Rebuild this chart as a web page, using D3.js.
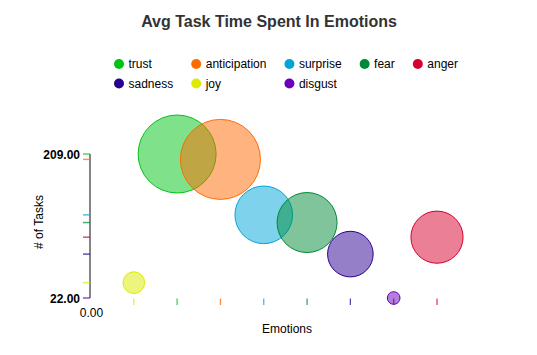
<!DOCTYPE html>
<html><head><meta charset="utf-8">
<script src="https://cdn.jsdelivr.net/npm/d3@7"></script>
<style>body{margin:0;background:#fff}svg{font-family:"Liberation Sans",Arial,Helvetica,sans-serif}</style>
</head><body>
<svg id="c" width="537" height="355"></svg>
<script>
const emotions = ["trust","anticipation","surprise","fear","anger","sadness","joy","disgust"];
const colors = ["#00c414","#ff6a00","#00a5d7","#008a37","#d7002d","#290091","#dcec00","#6a00b9"];
const taskCounts = [209,202,130,120,101,79,42,22];
const avgTime = [15.2,16.0,8.3,9.0,6.8,5.2,1.17,0.4];
const xOrder = ["joy","trust","anticipation","surprise","fear","sadness","disgust","anger"];
const yTickLabels = ["209.00","22.00"];
const xTickLabel = "0.00";

const svg = d3.select("#c");
const data = emotions.map((e,i)=>({name:e,color:colors[i],count:taskCounts[i],time:avgTime[i],xi:xOrder.indexOf(e)+1}));

const x = d3.scaleLinear().domain([0,8]).range([90.5,437]);
const y = d3.scaleLinear().domain([22,209]).range([298,154]);
const r = d3.scaleSqrt().domain([0,d3.max(avgTime)]).range([0,40]);

// title
svg.append("text").attr("x",269).attr("y",27).attr("text-anchor","middle")
  .attr("font-size","16px").attr("font-weight","bold").attr("fill","#333").text("Avg Task Time Spent In Emotions");

// legend
const leg = svg.append("g");
const cols = 5;
const tmp = leg.append("text").attr("font-size","12px");
const widths = emotions.map(e=>{tmp.text(e);return tmp.node().getComputedTextLength();});
tmp.remove();
const colW = d3.range(cols).map(c=>d3.max(emotions.filter((e,i)=>i%cols===c).map(e=>widths[emotions.indexOf(e)])));
const colX = [119];
for(let c=1;c<cols;c++) colX.push(colX[c-1]+10+colW[c-1]+22.5);
data.forEach((d,i)=>{
  const cx = colX[i%cols], cy = 64 + Math.floor(i/cols)*19.5;
  leg.append("circle").attr("cx",cx).attr("cy",cy).attr("r",5).attr("fill",d.color);
  leg.append("text").attr("x",cx+9.5).attr("y",cy+4.3).attr("font-size","12px").attr("fill","#000").text(d.name);
});

// y axis line
svg.append("line").attr("x1",90).attr("x2",90).attr("y1",y(209)).attr("y2",y(22)).attr("stroke","#333").attr("stroke-width",1.2);
// y colored ticks
data.forEach(d=>{
  svg.append("line").attr("x1",83).attr("x2",90).attr("y1",y(d.count)).attr("y2",y(d.count))
    .attr("stroke",d.color).attr("stroke-opacity",0.7).attr("stroke-width",1.5);
});
// y labels
[209,22].forEach((v,i)=>{
  svg.append("text").attr("x",80).attr("y",y(v)+4.5).attr("text-anchor","end").attr("font-size","12px")
    .attr("font-weight","bold").attr("fill","#000").text(yTickLabels[i]);
});
svg.append("text").attr("x",x(0)+1).attr("y",317).attr("text-anchor","middle").attr("font-size","12px").attr("fill","#000").text(xTickLabel);

// x colored ticks
data.forEach(d=>{
  svg.append("line").attr("x1",x(d.xi)).attr("x2",x(d.xi)).attr("y1",298.5).attr("y2",305)
    .attr("stroke",d.color).attr("stroke-opacity",0.75).attr("stroke-width",1.3);
});

// axis titles
svg.append("text").attr("x",287).attr("y",333).attr("text-anchor","middle").attr("font-size","12px").attr("fill","#000").text("Emotions");
svg.append("text").attr("transform","translate(43,222) rotate(-90)").attr("text-anchor","middle").attr("font-size","12px").attr("fill","#000").text("# of Tasks");

// bubbles
svg.append("g").selectAll("circle").data(data).join("circle")
  .attr("cx",d=>x(d.xi)).attr("cy",d=>y(d.count)).attr("r",d=>r(d.time))
  .attr("fill",d=>d.color).attr("fill-opacity",0.5).attr("stroke",d=>d.color).attr("stroke-width",1);
</script>
</body></html>
